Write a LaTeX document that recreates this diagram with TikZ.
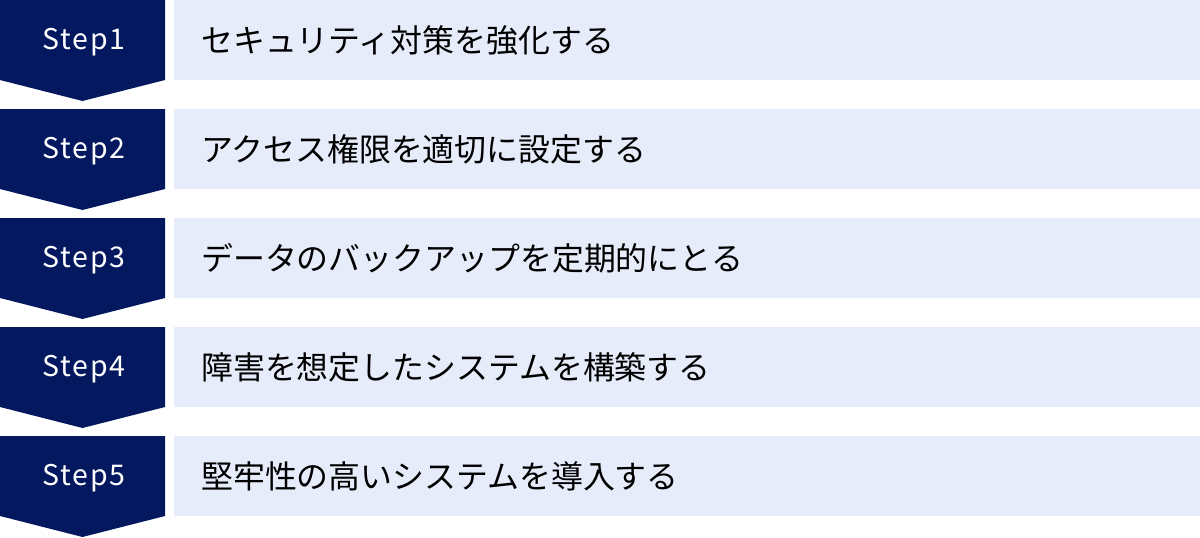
\documentclass[tikz,border=0pt]{standalone}
\usepackage{fontspec}
\newfontfamily\jpfont{Noto Sans CJK JP}
\newfontfamily\stepfont{Noto Sans CJK JP}[LetterSpace=6]
\definecolor{navy}{HTML}{03185F}
\definecolor{lightbg}{HTML}{E6ECFA}
\tikzset{
  stepshape/.style={fill=navy,draw=none},
  bgbox/.style={fill=lightbg,draw=none},
  steplabel/.style={anchor=base,inner sep=0pt,text=white,font=\stepfont\fontsize{28.5}{32}\selectfont},
  itemtext/.style={anchor=base west,inner sep=0pt,text=black,font=\jpfont\fontsize{31.9}{38}\selectfont},
}
\begin{document}
\begin{tikzpicture}[x=1pt,y=-1pt]
\useasboundingbox (0,0) rectangle (1200,538);
\foreach \i/\t/\txt in {1/0/セキュリティ対策を強化する,
                        2/109/アクセス権限を適切に設定する,
                        3/218/データのバックアップを定期的にとる,
                        4/327/障害を想定したシステムを構築する,
                        5/436/堅牢性の高いシステムを導入する}{
  \fill[stepshape] (0,\t) -- (165,\t) -- (165,\t+80) -- (82.5,\t+101) -- (0,\t+80) -- cycle;
  \fill[bgbox] (174,\t) rectangle (1200,\t+80);
  \node[steplabel] (s\i) at (84,\t+49.5) {Step\i};
  \node[itemtext] (t\i) at (201,\t+52.5) {\txt};
}
\end{tikzpicture}
\end{document}
